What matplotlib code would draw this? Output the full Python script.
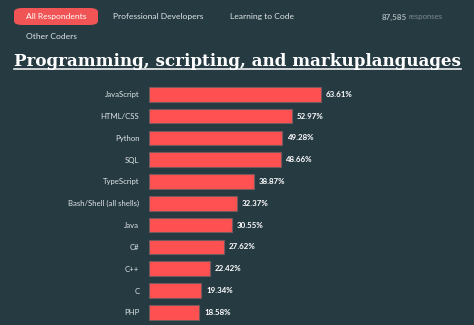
import matplotlib
matplotlib.use('Agg')
import matplotlib.pyplot as plt
from matplotlib.patches import FancyBboxPatch
from matplotlib.lines import Line2D

languages = ['JavaScript', 'HTML/CSS', 'Python', 'SQL', 'TypeScript',
             'Bash/Shell (all shells)', 'Java', 'C#', 'C++', 'C', 'PHP']
shares = [63.61, 52.97, 49.28, 48.66, 38.87, 32.37, 30.55, 27.62, 22.42, 19.34, 18.58]
tabs = ['Professional Developers', 'Learning to Code']
responses = '87,585'

BG = '#263a42'
RED = '#ff5151'
W, H = 474, 325

plt.rcParams['font.family'] = ['Lato', 'DejaVu Sans']

fig = plt.figure(figsize=(W / 100, H / 100), dpi=100)
fig.patch.set_facecolor(BG)

def fx(px):
    return px / W

def fy(py):
    return 1 - py / H

# ---- tab row ----
pill = FancyBboxPatch((fx(14), fy(25)), fx(84), 17 / H,
                      boxstyle='round,pad=0,rounding_size=0.018',
                      transform=fig.transFigure, facecolor='#f05455',
                      edgecolor='none', mutation_aspect=H / W)
fig.patches.append(pill)
fig.text(fx(56), fy(16.5), 'All Respondents', color='white', fontsize=6.1,
         ha='center', va='center')
fig.text(fx(113), fy(16.5), tabs[0], color='#dfe4e6', fontsize=6.1,
         ha='left', va='center')
fig.text(fx(230), fy(16.5), tabs[1], color='#dfe4e6', fontsize=6.1,
         ha='left', va='center')
fig.text(fx(26), fy(36.5), 'Other Coders', color='#dfe4e6', fontsize=6.1,
         ha='left', va='center')
fig.text(fx(382), fy(17), responses, color='#aab4b8', fontsize=5.8,
         ha='left', va='center', fontweight='bold')
fig.text(fx(408.5), fy(17), 'responses', color='#7d8b90', fontsize=5.6,
         ha='left', va='center')

# ---- title with underline ----
title = fig.text(0.5, fy(66.5), 'Programming, scripting, and markuplanguages',
                 color='white', fontsize=12.05, fontweight='bold',
                 family='DejaVu Serif', ha='center', va='baseline')
fig.canvas.draw()
bb = title.get_window_extent().transformed(fig.transFigure.inverted())
fig.add_artist(Line2D([bb.x0, bb.x1], [fy(69.5), fy(69.5)],
                      transform=fig.transFigure, color='white', lw=1.1))

# ---- bars ----
ax = fig.add_axes([fx(149), 1 - 323.2 / H, fx(300), 239.8 / H])
ax.set_facecolor(BG)
ypos = list(range(len(languages)))
ax.barh(ypos, shares, height=0.67, color=RED, edgecolor='#75585c', linewidth=0.8)
for y, v in zip(ypos, shares):
    ax.text(v + 1.8, y, f'{v:.2f}%', color='white', fontsize=5.7,
            fontweight='bold', va='center', ha='left')
ax.set_xlim(0, 300 / 2.704)
ax.set_ylim(len(languages) - 0.5, -0.5)
ax.set_yticks(ypos)
ax.set_yticklabels(languages, color='#dfe4e6', fontsize=5.6)
ax.tick_params(axis='y', length=0, pad=7)
ax.set_xticks([])
for s in ax.spines.values():
    s.set_visible(False)

fig.savefig('out.png', dpi=100, facecolor=BG)
